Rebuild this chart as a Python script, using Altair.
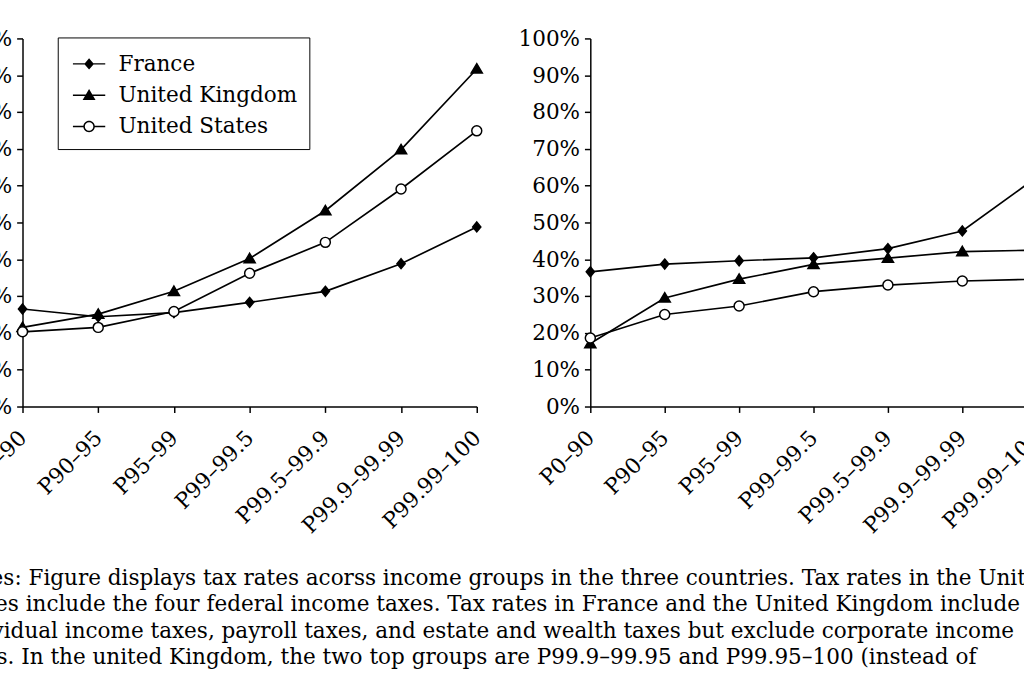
import altair as alt
import pandas as pd

groups = ["P0–90", "P90–95", "P95–99", "P99–99.5", "P99.5–99.9", "P99.9–99.99", "P99.99–100"]
countries = ["France", "United Kingdom", "United States"]

# Average tax rates (%) by income group, left panel
left_france = [26.5, 24.4, 25.5, 28.3, 31.3, 38.8, 48.8]
left_uk = [21.5, 25.1, 31.3, 40.2, 53.2, 69.8, 91.7]
left_us = [20.3, 21.5, 25.8, 36.2, 44.6, 59.1, 74.9]

# Average tax rates (%) by income group, right panel
right_france = [36.6, 38.7, 39.6, 40.4, 42.9, 47.7, 62.3]
right_uk = [17.1, 29.5, 34.6, 38.6, 40.3, 42.1, 42.5]
right_us = [18.6, 25.0, 27.3, 31.2, 33.0, 34.1, 34.6]

y_ticks = [0, 10, 20, 30, 40, 50, 60, 70, 80, 90, 100]

notes = [
    "Notes: Figure displays tax rates acorss income groups in the three countries. Tax rates in the United",
    "States include the four federal income taxes. Tax rates in France and the United Kingdom include",
    "individual income taxes, payroll taxes, and estate and wealth taxes but exclude corporate income",
    "taxes. In the united Kingdom, the two top groups are P99.9–99.95 and P99.95–100 (instead of",
]

FONT = "DejaVu Serif"

# marker glyphs in the unit square (drawn with a 1.5px outline)
diamond = "M0,-0.34L0.28,0L0,0.34L-0.28,0Z"
triangle = "M0,-0.36L0.38,0.28L-0.38,0.28Z"
circle = "M-0.34,0A0.34,0.34,0,1,0,0.34,0A0.34,0.34,0,1,0,-0.34,0Z"
markers = {"France": (diamond, "black"),
           "United Kingdom": (triangle, "black"),
           "United States": (circle, "white")}

# legend glyphs, solid fill only: a thin bar with the marker on it
bar = "M-1.1,-0.05L1.1,-0.05L1.1,0.05L-1.1,0.05Z"
legend_paths = [
    bar + "M0,-0.39L0.33,0L0,0.39L-0.33,0Z",
    bar + "M0,-0.42L0.44,0.33L-0.44,0.33Z",
    "M-1.1,-0.05L-0.36,-0.05L-0.36,0.05L-1.1,0.05Z"
    "M0.36,-0.05L1.1,-0.05L1.1,0.05L0.36,0.05Z"
    "M-0.39,0A0.39,0.39,0,1,1,0.39,0A0.39,0.39,0,1,1,-0.39,0Z"
    "M-0.29,0A0.29,0.29,0,1,0,0.29,0A0.29,0.29,0,1,0,-0.29,0Z",
]


def frame(fr, uk, us):
    rows = []
    for c, vals in zip(countries, [fr, uk, us]):
        for g, v in zip(groups, vals):
            rows.append({"country": c, "group": g, "rate": v})
    return pd.DataFrame(rows)


def panel(df, width):
    x = alt.X("group:N", sort=groups, title=None,
              scale=alt.Scale(type="point", padding=0),
              axis=alt.Axis(labelAngle=315, labelAlign="right", labelBaseline="middle",
                            labelPadding=22))
    y = alt.Y("rate:Q", title=None, scale=alt.Scale(domain=[0, 100], nice=False),
              axis=alt.Axis(values=y_ticks, labelExpr="datum.value + '%'", labelPadding=5))
    base = alt.Chart(df).encode(x=x, y=y)
    lines = base.mark_line(color="black", strokeWidth=1.7).encode(detail="country:N")
    pts = []
    for c in countries:
        shape, fill = markers[c]
        pts.append(base.transform_filter(alt.datum.country == c).mark_point(
            shape=shape, size=900, fill=fill, stroke="black", strokeWidth=1.5, opacity=1))
    key = base.mark_point(size=900, filled=True, color="black", opacity=0).encode(
        shape=alt.Shape("country:N", scale=alt.Scale(domain=countries, range=legend_paths),
                        legend=alt.Legend(title=None, orient="none", legendX=36, legendY=-1,
                                          symbolOffset=5, labelLimit=400)),
    )
    return alt.layer(lines, *pts, key).properties(width=width, height=376)


left = panel(frame(left_france, left_uk, left_us), 464)
right = panel(frame(right_france, right_uk, right_us), 456)

chart = alt.hconcat(left, right, spacing=25).properties(
    title=alt.TitleParams(notes, orient="bottom", anchor="start", font=FONT, fontSize=22,
                          fontWeight="normal", lineHeight=27, color="black", offset=32),
    padding={"left": -51, "top": 21, "right": -31, "bottom": 0},
    background="white",
).configure_view(stroke=None).configure_axis(
    domainColor="black", domainWidth=1.5, tickColor="black", tickWidth=1.5, tickSize=6,
    labelFont=FONT, labelFontSize=22, labelColor="black", grid=False,
).configure_legend(
    labelFont=FONT, labelFontSize=22, labelColor="black", symbolSize=900,
    symbolStrokeWidth=0, symbolFillColor="black", symbolOpacity=1,
    labelOffset=15, padding=12, rowPadding=6, strokeColor="black", fillColor="white",
)

chart.save("out.html", embed_options={"renderer": "svg", "actions": False})
